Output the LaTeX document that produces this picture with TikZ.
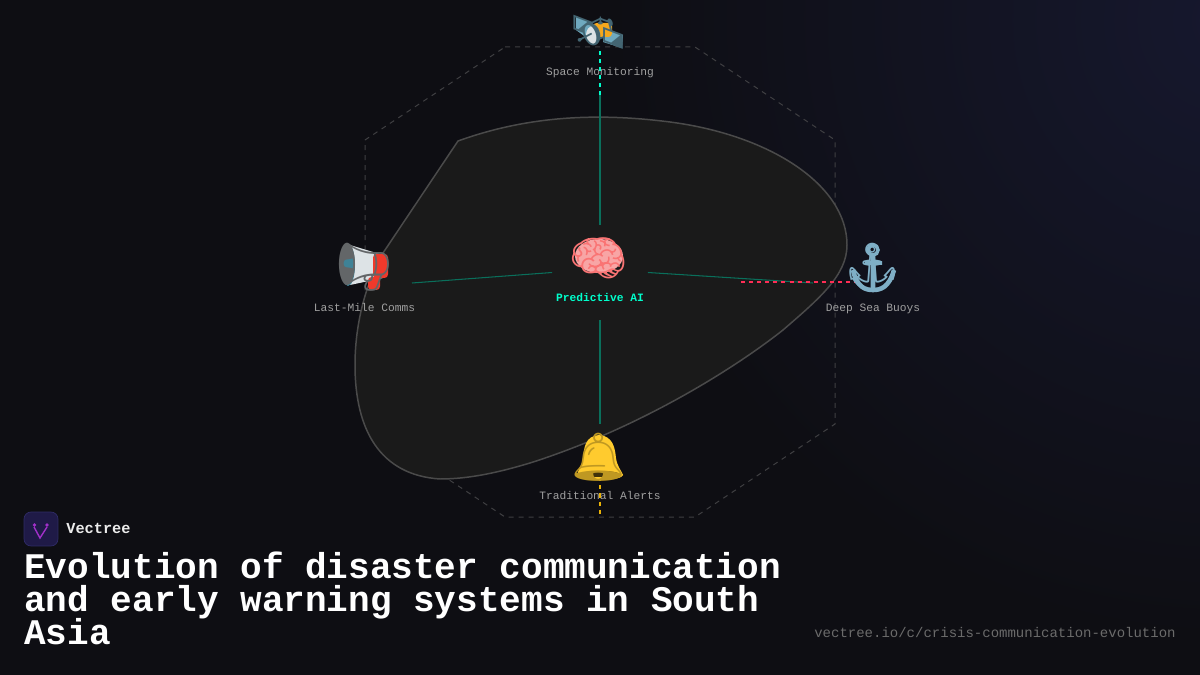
\documentclass[tikz,border=0pt]{standalone}
\usepackage{fontspec}
\setmainfont{Liberation Mono}
\newfontfamily\emojifont{Noto Emoji}
\usetikzlibrary{arrows.meta,positioning,calc}
\definecolor{bgdark}{HTML}{0E0E13}
\definecolor{bgblue}{HTML}{16182E}
\definecolor{octline}{HTML}{3F3F42}
\definecolor{blobfill}{HTML}{1A1A1A}
\definecolor{blobline}{HTML}{4A4A4A}
\definecolor{spokegreen}{HTML}{0A6F5B}
\definecolor{aicyan}{HTML}{00FFCC}
\definecolor{buoyred}{HTML}{FF2D55}
\definecolor{alertyellow}{HTML}{EAB308}
\definecolor{labelgrey}{HTML}{A0A0A0}
\definecolor{urlgrey}{HTML}{6B6B6B}
\definecolor{panelblue}{HTML}{6FA9BF}
\definecolor{dishwhite}{HTML}{DDE3E6}
\definecolor{bodyorange}{HTML}{F5A81C}
\definecolor{brainpink}{HTML}{F8A5A5}
\definecolor{mouthteal}{HTML}{3F8296}
\definecolor{hornred}{HTML}{F0392B}
\definecolor{anchorblue}{HTML}{7FAFC6}
\definecolor{bellgold}{HTML}{FFCB2E}
\definecolor{logofill}{HTML}{1F1A47}
\definecolor{logoline}{HTML}{2F2B66}
\definecolor{logomark}{HTML}{A030C8}
\tikzset{
  iconbox/.style={inner sep=0pt, font=\emojifont\fontsize{27pt}{27pt}\selectfont},
  labelbox/.style={inner sep=0pt, anchor=base, text=labelgrey, font=\fontsize{6.4pt}{8pt}\selectfont},
  hubbox/.style={circle, minimum size=1.9cm, inner sep=0pt},
  spoke/.style={draw=spokegreen, line width=0.6pt},
  signal/.style={line width=1.14pt, dash pattern=on 2.3pt off 2.3pt},
  titlebox/.style={inner sep=0pt, anchor=north west, align=left, text=white, font=\bfseries\fontsize{20.5pt}{18.45pt}\selectfont}
}
\begin{document}
\begin{tikzpicture}[x=0.02cm,y=-0.02cm]
\useasboundingbox (0,0) rectangle (1200,675);
\fill[bgdark] (0,0) rectangle (1200,675);
\begin{scope}
\clip (0,0) rectangle (1200,675);
\shade[inner color=bgblue, outer color=bgdark] (1230,20) circle[radius=620];
\end{scope}
% octagon
\draw[octline, line width=0.57pt, dash pattern=on 2.85pt off 2.85pt] (505,47) -- (695,47) -- (835,140) -- (835,424) -- (695,517) -- (505,517) -- (365,424) -- (365,140) -- cycle;
% blob
\draw[fill=blobfill, draw=blobline, line width=0.85pt] (458,141) .. controls (530,115) and (600,113) .. (670,122)
  .. controls (770,135) and (847,185) .. (847,245)
  .. controls (847,275) and (820,298) .. (783,330)
  .. controls (735,368) and (640,428) .. (530,463)
  .. controls (500,472) and (470,479) .. (440,479)
  .. controls (380,475) and (355,430) .. (355,365)
  .. controls (355,325) and (365,285) .. (383,253) -- cycle;
% labels
\node[labelbox] (spaceLabel) at (600,75.5) {Space Monitoring};
\node[labelbox, text=aicyan, font=\bfseries\fontsize{6.4pt}{8pt}\selectfont] (aiLabel) at (600,302) {Predictive AI};
\node[labelbox] (commsLabel) at (364.5,311.5) {Last-Mile Comms};
\node[labelbox] (buoyLabel) at (873,311.5) {Deep Sea Buoys};
\node[labelbox] (alertLabel) at (600,499.5) {Traditional Alerts};
% spokes
\node[hubbox] (hub) at (600,272.5) {};
\coordinate (spaceEnd) at (600,95);
\coordinate (spaceTop) at (600,47);
\coordinate (commsEnd) at (412,283);
\coordinate (buoyEnd) at (813,283);
\coordinate (buoyFar) at (858,282);
\coordinate (buoyNear) at (741,282);
\coordinate (alertEnd) at (600,424);
\coordinate (alertStart) at (600,445);
\coordinate (alertBottom) at (600,517);
\draw[spoke] (hub.north) -- (spaceEnd);
\draw[spoke] (hub.west) -- (commsEnd);
\draw[spoke] (hub.east) -- (buoyEnd);
\draw[spoke] (hub.south) -- (alertEnd);
\draw[signal, aicyan] (spaceEnd) -- (spaceTop);
\draw[signal, buoyred] (buoyNear) -- (buoyFar);
\draw[signal, alertyellow] (alertStart) -- (alertBottom);
% icon colours
\fill[panelblue] (576,16) -- (595,25) -- (587,38) -- (576,30) -- cycle;
\fill[panelblue] (604,28) -- (623,35) -- (622,48) -- (603,42) -- cycle;
\fill[bodyorange, rounded corners=2pt] (593,23) rectangle (612,37);
\fill[dishwhite] (593,35) ellipse[x radius=7, y radius=9];
\fill[brainpink] (599,256) ellipse[x radius=24, y radius=17];
\fill[dishwhite] (350,245) -- (383,255) -- (383,278) -- (350,285) -- cycle;
\fill[hornred, rounded corners=2pt] (373,254) rectangle (388,278);
\fill[hornred, rounded corners=2pt] (368,277) rectangle (380,290);
\fill[mouthteal] (348,265) ellipse[x radius=7, y radius=21];
\draw[anchorblue, line width=2pt] (873,250) circle[radius=5] (865,263) -- (882,263);
\draw[anchorblue, line width=2.6pt] (873,255) -- (873,289) (853,270) .. controls (857,288) and (866,290) .. (873,290) .. controls (880,290) and (889,288) .. (894,270);
\fill[bellgold] (599,435) .. controls (585,436) and (584,448) .. (583,458) .. controls (582,466) and (578,470) .. (577,475) -- (623,475) .. controls (621,470) and (617,466) .. (616,458) .. controls (615,448) and (613,436) .. (599,435) -- cycle;
\fill[bellgold] (600,475) ellipse[x radius=23, y radius=5];
\fill[black!75!bellgold] (600,474) ellipse[x radius=19, y radius=3];
% icons
\node[iconbox, text=panelblue!60!black] (satellite) at (599,32) {\char"1F6F0};
\node[iconbox, text=brainpink!70!red] (brain) at (599,258) {\char"1F9E0};
\node[iconbox, xscale=-1, text=black!55!dishwhite] (megaphone) at (364,267) {\char"1F4E2};
\node[iconbox, text=anchorblue] (anchor) at (873,267) {\char"2693};
\node[iconbox, text=bellgold!75!black] (bell) at (599,457) {\char"1F514};
% brand
\node[draw=logoline, fill=logofill, rounded corners=4pt, minimum size=0.68cm, inner sep=0pt] (logo) at (41,529) {};
\draw[logomark, line width=0.8pt] (34,527) -- (40,538) -- (47,527);
\fill[logomark] (34.5,525) circle[radius=1.8] (47,525) circle[radius=1.8];
\node[inner sep=0pt, anchor=west, text=white!92!black, font=\bfseries\fontsize{8.7pt}{10pt}\selectfont] (brand) at (66,528) {Vectree};
\node[titlebox] (title) at (24,552) {Evolution of disaster communication\\and early warning systems in South\\[-1.6pt]Asia};
\node[inner sep=0pt, anchor=east, text=urlgrey, font=\fontsize{7.97pt}{10pt}\selectfont] (url) at (1176,632.5) {vectree.io/c/crisis-communication-evolution};
\end{tikzpicture}
\end{document}
